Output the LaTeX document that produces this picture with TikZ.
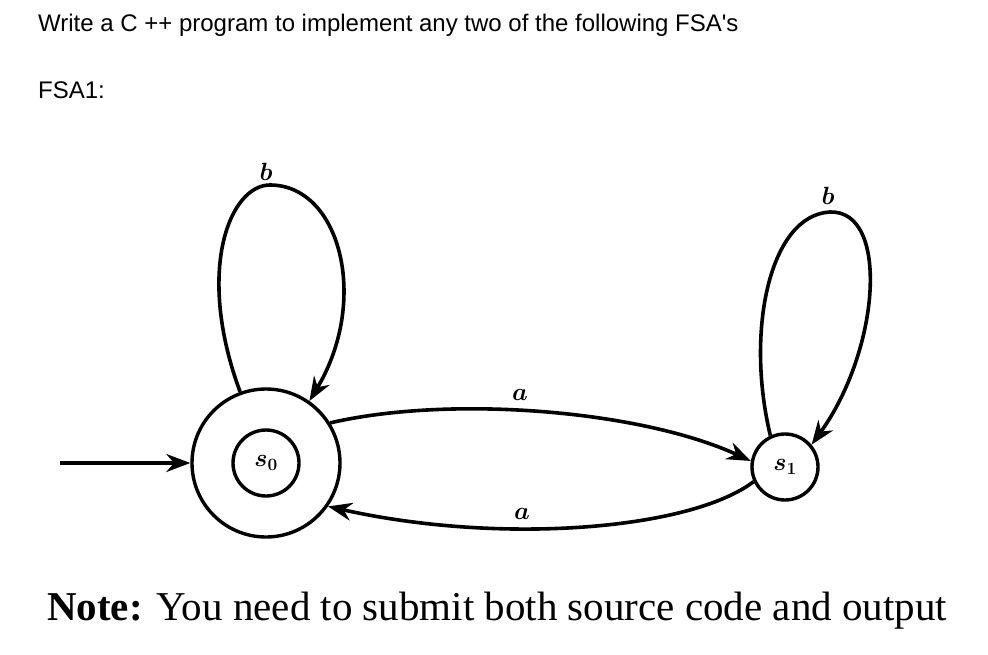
\documentclass[tikz,border=0pt]{standalone}
\usepackage{amsmath,bm}
\usepackage{fontspec}
\setmainfont{Liberation Serif}
\newfontfamily\arialfont{Liberation Sans}
\usetikzlibrary{arrows.meta}
\begin{document}
\begin{tikzpicture}[
          x=1pt,y=-1pt,
          state/.style={draw,line width=3.4pt,circle,inner sep=0pt},
          lbl/.style={font=\fontsize{24}{24}\selectfont\bfseries\itshape},
          hdr/.style={font=\arialfont\fontsize{24}{24}\selectfont,anchor=west},
          line width=3.6pt,
          >={Stealth[length=24pt,width=18pt]},
        ]
        \useasboundingbox (0,0) rectangle (988,655);
        \node[hdr] (title) at (33,25) {Write a C ++ program to implement any two of the following FSA's};
        \node[hdr] (fsa) at (33,90) {FSA1:};
        \node[state,minimum size=148pt] (q0) at (266,463) {};
        \node[state,minimum size=66pt,lbl] (q0in) at (266,463) {$\bm{s_0}$};
        \node[state,minimum size=66pt,lbl] (q1) at (785,467) {$\bm{s_1}$};
        \coordinate (start) at (60,463);
        \draw[->] (start) -- (q0.west);
        % loops
        \draw[->] (q0.110) .. controls (195,270) and (230,185) .. (270,185)
          .. controls (340,185) and (370,300) .. (q0.55);
        \draw[->] (q1.115) .. controls (745,330) and (770,215) .. (830,212)
          .. controls (890,210) and (880,350) .. (q1.40);
        \node[lbl] (lb0) at (266,172) {$\bm{b}$};
        \node[lbl] (lb1) at (828,196) {$\bm{b}$};
        % transitions
        \draw[->] (q0.32) .. controls (450,395) and (640,410) .. (q1.170);
        \draw[->] (q1.205) .. controls (690,530) and (500,545) .. (q0.-35);
        \node[lbl] (la0) at (520,395) {$\bm{a}$};
        \node[lbl] (la1) at (522,514) {$\bm{a}$};
        \node[anchor=west,font=\fontsize{41}{41}\selectfont] (note) at (42,611) {\textbf{Note:} You need to submit both source code and output};
\end{tikzpicture}
\end{document}
